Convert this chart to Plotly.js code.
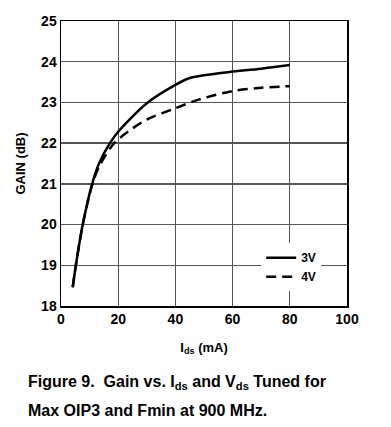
<!DOCTYPE html>
<html><head><meta charset="utf-8">
<script src="https://cdn.plot.ly/plotly-3.0.1.min.js"></script>
<style>html,body{margin:0;padding:0;background:#fff}#chart{width:391px;height:427px}</style>
</head><body><div id="chart"></div>
<script>
const ids3V = [4.1, 5.2, 7.6, 10.9, 13.3, 17.1, 20, 30, 40, 45, 50, 59, 70, 80];
const gain3V = [18.46, 19, 20, 21, 21.5, 22.0, 22.28, 22.98, 23.43, 23.6, 23.67, 23.75, 23.83, 23.92];
const ids4V = [4.1, 5.2, 7.6, 11, 13.5, 18.6, 25, 30, 40, 48.7, 60, 70, 80];
const gain4V = [18.46, 19, 20, 21, 21.45, 22.0, 22.36, 22.58, 22.86, 23.08, 23.28, 23.36, 23.4];
const seriesNames = ['3V', '4V'];
const xTicks = [0, 20, 40, 60, 80, 100];
const yTicks = [18, 19, 20, 21, 22, 23, 24, 25];

const fontFam = '"Liberation Sans Narrow", "Arial Narrow", "Liberation Sans", Arial, sans-serif';

const traces = [
  {x: ids3V, y: gain3V, name: seriesNames[0], mode: 'lines', line: {color: '#000', width: 2.5, shape: 'spline', smoothing: 0.8}},
  {x: ids4V, y: gain4V, name: seriesNames[1], mode: 'lines', line: {color: '#000', width: 2.5, dash: '10px,6px', shape: 'spline', smoothing: 0.8}}
];

const layout = {
  width: 391, height: 427,
  margin: {l: 61, r: 44, t: 21, b: 121},
  paper_bgcolor: '#fff', plot_bgcolor: '#fff',
  font: {family: fontFam, color: '#000'},
  showlegend: true,
  legend: {x: 0.70, y: 0.22, xanchor: 'left', yanchor: 'top', bgcolor: '#fff', borderwidth: 0,
           font: {family: fontFam, size: 12, weight: 'bold'}, itemwidth: 30},
  xaxis: {range: [0, 100], tickvals: xTicks, ticktext: xTicks.map(String), showgrid: true, gridcolor: '#555', gridwidth: 1.3,
          zeroline: false, showline: true, linecolor: '#000', linewidth: 1.5, mirror: true, ticks: '',
          tickfont: {family: fontFam, size: 14, weight: 'bold'},
          title: {text: 'I<sub>ds</sub> (mA)', font: {family: fontFam, size: 13, weight: 'bold'}, standoff: 16}},
  yaxis: {range: [18, 25], tickvals: yTicks, ticktext: yTicks.map(String), showgrid: true, gridcolor: '#555', gridwidth: 1.3,
          zeroline: false, showline: true, linecolor: '#000', linewidth: 1.5, mirror: true, ticks: '', ticklen: 0,
          tickfont: {family: fontFam, size: 14, weight: 'bold'},
          title: {text: 'GAIN (dB)', font: {family: fontFam, size: 13, weight: 'bold'}, standoff: 12}},
  annotations: [
    {xref: 'paper', yref: 'paper', x: -0.122, y: -0.270, xanchor: 'left', yanchor: 'middle', align: 'left', showarrow: false,
     text: 'Figure 9.  Gain vs. I<sub>ds</sub> and V<sub>ds</sub> Tuned for',
     font: {family: fontFam, size: 16, weight: 'bold', color: '#000'}},
    {xref: 'paper', yref: 'paper', x: -0.122, y: -0.365, xanchor: 'left', yanchor: 'middle', align: 'left', showarrow: false,
     text: 'Max OIP3 and Fmin at 900 MHz.',
     font: {family: fontFam, size: 16, weight: 'bold', color: '#000'}}
  ]
};

Plotly.newPlot('chart', traces, layout, {displayModeBar: false, staticPlot: true});
</script></body></html>
